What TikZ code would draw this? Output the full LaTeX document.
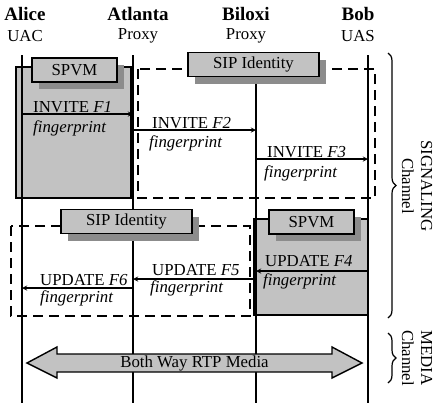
\documentclass[tikz,border=0pt]{standalone}
\usepackage{fontspec}
\setmainfont{Liberation Serif}
\usetikzlibrary{decorations.pathreplacing,shadows}
\tikzset{>=stealth}
\definecolor{boxgray}{RGB}{194,194,194}
\definecolor{shadowgray}{RGB}{140,140,140}
\newcommand\msgfont{\fontsize{16.8}{19}\selectfont}
\tikzset{
  head/.style={font=\fontsize{19}{21}\selectfont\bfseries,inner sep=0pt},
  role/.style={font=\msgfont,inner sep=0pt},
  life/.style={line width=1.4pt},
  area/.style={draw,line width=1.4pt,fill=boxgray},
  zone/.style={draw,line width=2.6pt,dash pattern=on 10pt off 6pt},
  tagbox/.style={draw,line width=1.6pt,fill=boxgray,font=\msgfont,inner sep=0pt,
    minimum height=24pt,
    drop shadow={shadow xshift=7pt,shadow yshift=-7pt,fill=shadowgray,opacity=1}},
  msg/.style={->,line width=1.3pt},
  lbl/.style={anchor=base west,inner sep=0pt,font=\msgfont},
  fp/.style={lbl,font=\msgfont\itshape},
  chan/.style={draw,line width=1.2pt,decorate,decoration={brace,amplitude=8pt}}
}

\begin{document}
\begin{tikzpicture}[x=1pt,y=-1pt]
\useasboundingbox (0,0) rectangle (440,408);

\foreach \n/\x/\who/\what in {alice/25/Alice/UAC,atlanta/138/Atlanta/Proxy,biloxi/246/Biloxi/Proxy,bob/358/Bob/UAS}
{
  \node[head] (\n) at (\x,14) {\who};
  \node[role] (\n-role) at (\x,36) {\what};
}

\draw[area] (16,67) rectangle (131,198);
\draw[area] (254,219) rectangle (368,315);

\foreach \n/\x/\top in {alice/22/55,atlanta/133/55,biloxi/256/80,bob/368/55}
  \draw[life] (\x,\top) coordinate (\n-top) -- (\x,403) coordinate (\n-end);

\draw[zone] (138,69) rectangle (375,198);
\draw[zone] (11,226) rectangle (250,316);

\node[tagbox,minimum width=85pt] (spvm1) at (74.5,70) {SPVM};
\node[tagbox,minimum width=131pt] (sip1) at (253.5,64.5) {SIP Identity};
\node[tagbox,minimum width=131pt] (sip2) at (126.5,221.5) {SIP Identity};
\node[tagbox,minimum width=85pt] (spvm2) at (311.5,222) {SPVM};

\draw[msg] (alice-top |- 0,114) -- (atlanta-top |- 0,114);
\draw[msg] (atlanta-top |- 0,130) -- (biloxi-top |- 0,130);
\draw[msg] (biloxi-top |- 0,159) -- (bob-top |- 0,159);
\draw[msg] (bob-top |- 0,271) -- (biloxi-top |- 0,271);
\draw[msg] (biloxi-top |- 0,279) -- (atlanta-top |- 0,279);
\draw[msg] (atlanta-top |- 0,288) -- (alice-top |- 0,288);

\node[lbl] (f1) at (33,112) {INVITE \textit{F1}};
\node[fp] (f1fp) at (33,132) {fingerprint};
\node[lbl] (f2) at (152,128) {INVITE \textit{F2}};
\node[fp] (f2fp) at (149,147) {fingerprint};
\node[lbl] (f3) at (267,157) {INVITE \textit{F3}};
\node[fp] (f3fp) at (264,177) {fingerprint};
\node[lbl] (f4) at (265,266) {UPDATE \textit{F4}};
\node[fp] (f4fp) at (263,285) {fingerprint};
\node[lbl] (f5) at (152,275) {UPDATE \textit{F5}};
\node[fp] (f5fp) at (150,292) {fingerprint};
\node[lbl] (f6) at (40,285) {UPDATE \textit{F6}};
\node[fp] (f6fp) at (40,302) {fingerprint};

\draw[area] (27,363) -- (57,347) -- (57,354) -- (332,354) -- (332,347) -- (362,363)
  -- (332,378) -- (332,372) -- (57,372) -- (57,378) -- cycle;
\node[role] (rtp) at (194.5,363) {Both Way RTP Media};

\draw[chan] (388,53) coordinate (sig-a) -- (388,318) coordinate (sig-b);
\draw[chan] (388,333) coordinate (med-a) -- (388,383) coordinate (med-b);
\node[role,rotate=-90,align=center] (sig) at (417,186) {SIGNALING\\Channel};
\node[role,rotate=-90,align=center] (med) at (417,358) {MEDIA\\Channel};
\end{tikzpicture}
\end{document}
